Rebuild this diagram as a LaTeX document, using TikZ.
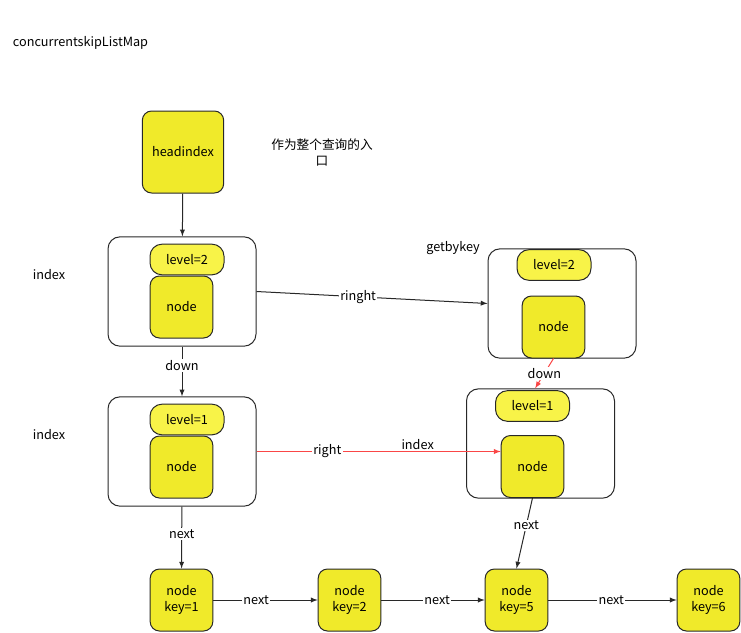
\documentclass[tikz,border=0pt]{standalone}
\usepackage{fontspec}
\setmainfont{Noto Sans CJK SC}
\usepackage{tikz}
\usetikzlibrary{arrows}
\usetikzlibrary{positioning}
\tikzset{>=latex}
\definecolor{nodeyellow}{RGB}{240,234,42}
\definecolor{pillyellow}{RGB}{248,243,72}
\definecolor{edgegray}{RGB}{40,40,40}
\definecolor{linkred}{RGB}{250,70,70}

\begin{document}
\begin{tikzpicture}[x=0.75pt, y=-0.75pt, font=\fontsize{9.5}{12}\selectfont, line width=0.75pt,
	box/.style={draw=edgegray, fill=nodeyellow, rounded corners=7pt, minimum width=47pt, minimum height=46.5pt, inner sep=1pt, align=center},
	pill/.style={draw=edgegray, fill=pillyellow, rounded corners=9pt, minimum width=55.5pt, minimum height=23pt, inner sep=1pt},
	frame/.style={draw=edgegray, rounded corners=9pt, minimum width=111pt, minimum height=82pt},
	tag/.style={fill=white, inner sep=1pt, text=black}]
	\useasboundingbox (0,0) rectangle (741,632);
	\node[anchor=west] (title) at (8,43) {concurrentskipListMap};
	\node[box, minimum width=61pt, minimum height=61.5pt] (head) at (183,152) {headindex};
	\node[align=center] (note) at (322,152) {作为整个查询的入\\口};
	% left column
	\node[frame] (a) at (182,291.5) {};
	\node[box] (an) at (181.5,307) {node};
	\node[pill] (al) at (187,259.5) {level=2};
	\node[frame] (b) at (182,451.5) {};
	\node[box] (bn) at (181.5,467) {node};
	\node[pill] (bl) at (187,419.5) {level=1};
	\node (ia) at (49,275) {index};
	\node (ib) at (49,435) {index};
	% right column
	\node[frame] (c) at (562,303.5) {};
	\node[box] (cn) at (553.5,327) {node};
	\node[pill] (cl) at (554,265) {level=2};
	\node (get) at (453,248) {getbykey};
	\node[frame] (d) at (540.5,443.5) {};
	\node[box] (dn) at (532.5,466.5) {node};
	\node[pill] (dl) at (532.5,406) {level=1};
	% bottom list
	\node[box] (n1) at (181.5,600) {node\\key=1};
	\node[box] (n2) at (349.5,600) {node\\key=2};
	\node[box] (n5) at (516.5,600) {node\\key=5};
	\node[box] (n6) at (708.5,600) {node\\key=6};

	\draw[->, edgegray] (head) -- (a);
	\draw[->, edgegray] (a) -- node[tag, pos=0.37] {down} (b);
	\draw[->, edgegray] (a.east) -- node[tag, pos=0.44] {ringht} (c.west);
	\draw[->, linkred] (b.east) -- node[tag, pos=0.29] {right} node[above, pos=0.66, text=black, inner sep=1pt] {index} (dn.west |- b.east);
	\draw[->, linkred] (cn.south) -- node[tag, pos=0.5] {down} ([xshift=-4pt]d.north);
	\draw[->, edgegray] (b) -- node[tag, pos=0.44] {next} (n1);
	\draw[->, edgegray] (dn.south) -- node[tag, pos=0.39] {next} (n5.north);
	\path[->, edgegray]
		(n1) edge node[tag, pos=0.41] {next} (n2)
		(n2) edge node[tag, pos=0.54] {next} (n5)
		(n5) edge node[tag, pos=0.49] {next} (n6);
\end{tikzpicture}
\end{document}
